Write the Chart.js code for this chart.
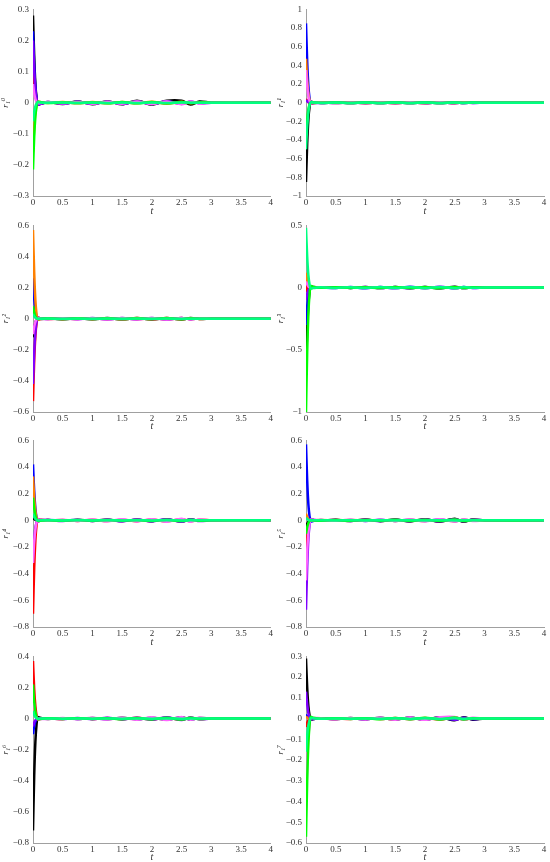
<!DOCTYPE html>
<html>
<head>
<meta charset="utf-8">
<script src="https://cdn.jsdelivr.net/npm/chart.js@4.4.1/dist/chart.umd.min.js"></script>
<style>
  body { margin: 0; background: #fff; }
  #wrap { position: relative; width: 550px; height: 862px; }
  .panel { position: absolute; }
</style>
</head>
<body>
<div id="wrap"></div>
<script>
// time samples shared by every series
const tVals = [0, 0.02, 0.04, 0.06, 0.08, 0.12, 0.25, 0.5, 0.75, 1, 1.25, 1.5, 1.75, 2, 2.25, 2.5, 2.65, 2.8, 3, 4];

// series colours, first one is drawn on top
const seriesColors = ['#00ff80', '#00ff00', '#ff66ff', '#8000ff', '#ff8000', '#ff0000', '#0000ff', '#000000'];

// panel r^0 : springgreen, green, magenta, purple, orange, red, blue, black
const r0 = [
  [-0.06, -0.03, -0.012, -0.003, 0.002, 0.001, 0, 0.001, -0.001, 0.001, -0.001, 0.001, -0.001, 0.001, -0.001, 0.001, 0, 0, 0, 0],
  [-0.215, -0.11, -0.045, -0.012, 0.003, 0.002, -0.001, 0.001, -0.001, 0.001, -0.002, 0.002, -0.002, 0.002, -0.002, 0.002, -0.001, 0.001, 0, 0],
  [0.06, 0.03, 0.012, 0.003, -0.002, -0.001, 0.002, -0.002, 0.002, -0.003, 0.003, -0.003, 0.004, -0.004, 0.004, -0.005, 0.004, -0.003, 0, 0],
  [0.2, 0.1, 0.04, 0.01, -0.006, -0.004, 0.002, -0.003, 0.003, -0.003, 0.003, -0.004, 0.004, -0.004, 0.005, -0.004, 0.004, -0.002, 0, 0],
  [-0.16, -0.08, -0.03, -0.008, 0.004, 0.002, -0.001, 0.002, -0.002, 0.002, -0.002, 0.002, -0.002, 0.003, -0.003, 0.003, -0.002, 0.001, 0, 0],
  [0.125, 0.065, 0.026, 0.007, -0.003, -0.002, 0.001, -0.001, 0.001, -0.002, 0.002, -0.002, 0.002, -0.002, 0.003, -0.003, 0.002, -0.001, 0, 0],
  [0.23, 0.12, 0.05, 0.013, -0.005, -0.003, 0.001, -0.002, 0.002, -0.002, 0.002, -0.002, 0.002, -0.003, 0.003, -0.002, 0.002, -0.001, 0, 0],
  [0.28, 0.15, 0.06, 0.016, -0.006, -0.004, 0.002, -0.004, 0.004, -0.005, 0.005, -0.005, 0.006, -0.006, 0.006, 0.006, -0.006, 0.004, 0, 0]
];

// panel r^1
const r1 = [
  [-0.5, -0.26, -0.1, -0.025, 0.006, 0.003, -0.002, 0.002, -0.002, 0.003, -0.003, 0.003, -0.003, 0.003, -0.003, 0.003, -0.002, 0.001, 0, 0],
  [-0.35, -0.18, -0.07, -0.018, 0.004, 0.002, -0.001, 0.002, -0.002, 0.002, -0.002, 0.002, -0.002, 0.002, -0.002, 0.002, -0.001, 0.001, 0, 0],
  [0.35, 0.18, 0.07, 0.018, -0.004, -0.002, 0.002, -0.003, 0.003, -0.003, 0.003, -0.004, 0.004, -0.004, 0.004, -0.004, 0.003, -0.002, 0, 0],
  [0.03, 0.015, 0.006, 0.002, 0.004, 0.002, -0.002, 0.002, -0.003, 0.003, -0.003, 0.003, -0.003, 0.004, -0.004, 0.004, -0.003, 0.002, 0, 0],
  [0.47, 0.24, 0.1, 0.025, -0.006, -0.003, 0.001, -0.002, 0.002, -0.002, 0.002, -0.002, 0.002, -0.002, 0.002, -0.002, 0.001, -0.001, 0, 0],
  [0.04, 0.02, 0.008, -0.01, -0.005, -0.002, 0.001, -0.001, 0.001, -0.002, 0.002, -0.002, 0.002, -0.002, 0.002, -0.002, 0.001, -0.001, 0, 0],
  [0.85, 0.44, 0.18, 0.045, -0.01, -0.005, 0.003, -0.004, 0.004, -0.005, 0.005, -0.005, 0.005, -0.005, 0.006, -0.005, 0.004, -0.002, 0, 0],
  [-0.85, -0.44, -0.18, -0.045, 0.01, 0.005, -0.002, 0.002, -0.002, 0.003, -0.003, 0.003, -0.003, 0.003, -0.003, 0.003, -0.002, 0.001, 0, 0]
];

// panel r^2
const r2 = [
  [0.03, 0.015, 0.006, 0.002, -0.001, 0, 0.001, -0.001, 0.001, -0.001, 0.001, -0.001, 0.001, -0.001, 0.001, -0.001, 0, 0, 0, 0],
  [0.08, 0.04, 0.016, 0.004, -0.002, -0.001, 0.001, -0.002, 0.002, -0.002, 0.002, -0.002, 0.002, -0.002, 0.003, -0.003, 0.002, -0.001, 0, 0],
  [-0.1, -0.05, -0.02, -0.005, 0.002, 0.001, -0.002, 0.003, -0.003, 0.003, -0.004, 0.004, -0.004, 0.004, -0.005, 0.005, -0.004, 0.002, 0, 0],
  [-0.42, -0.22, -0.09, -0.022, 0.006, 0.003, -0.002, 0.003, -0.003, 0.004, -0.004, 0.004, -0.004, 0.005, -0.005, 0.005, -0.004, 0.002, 0, 0],
  [0.57, 0.3, 0.12, 0.03, -0.008, -0.004, 0.002, -0.003, 0.003, -0.003, 0.003, -0.004, 0.004, -0.004, 0.004, -0.004, 0.003, -0.002, 0, 0],
  [-0.53, -0.27, -0.11, -0.028, 0.007, 0.003, -0.002, 0.002, -0.002, 0.003, -0.003, 0.003, -0.003, 0.003, -0.004, 0.004, -0.003, 0.001, 0, 0],
  [0.26, 0.13, 0.055, 0.014, -0.004, -0.002, 0.001, -0.002, 0.002, -0.002, 0.002, -0.003, 0.003, -0.003, 0.003, -0.003, 0.002, -0.001, 0, 0],
  [-0.12, -0.06, -0.025, -0.006, 0.003, 0.002, 0.002, -0.003, 0.003, -0.003, 0.004, -0.004, 0.004, -0.005, 0.005, -0.005, 0.004, -0.002, 0, 0]
];

// panel r^3
const r3 = [
  [0.48, 0.25, 0.1, 0.025, -0.008, -0.004, 0.002, -0.003, 0.003, -0.004, 0.004, -0.004, 0.005, -0.005, 0.005, -0.005, 0.004, -0.002, 0, 0],
  [-1.0, -0.52, -0.21, -0.05, 0.012, 0.006, -0.002, 0.003, -0.003, 0.003, -0.004, 0.004, -0.004, 0.004, -0.005, 0.005, -0.004, 0.002, 0, 0],
  [0.05, 0.025, 0.01, 0.003, -0.002, -0.001, 0.002, -0.003, 0.003, -0.004, 0.004, -0.005, 0.005, -0.005, 0.006, -0.006, 0.005, -0.003, 0, 0],
  [-0.1, -0.05, -0.02, -0.005, 0.003, 0.002, -0.002, 0.003, -0.003, 0.004, -0.004, 0.004, -0.005, 0.005, -0.005, 0.005, -0.004, 0.002, 0, 0],
  [0.12, 0.06, 0.025, 0.006, -0.003, -0.002, 0.001, -0.002, 0.002, -0.002, 0.002, -0.002, 0.003, -0.003, 0.003, -0.003, 0.002, -0.001, 0, 0],
  [0.05, -0.03, -0.02, -0.005, 0.002, 0.001, -0.001, 0.002, -0.002, 0.002, -0.002, 0.002, -0.002, 0.003, -0.003, 0.003, -0.002, 0.001, 0, 0],
  [-0.3, -0.15, -0.06, -0.015, 0.005, 0.003, 0.002, -0.004, 0.004, -0.005, 0.005, -0.006, 0.006, -0.006, 0.007, -0.007, 0.005, -0.003, 0, 0],
  [-0.65, -0.34, -0.14, -0.035, 0.01, 0.005, -0.002, 0.003, -0.003, 0.004, -0.004, 0.005, -0.005, 0.005, -0.006, 0.006, -0.004, 0.002, 0, 0]
];

// panel r^4
const r4 = [
  [0.05, 0.025, 0.01, 0.003, -0.001, 0, 0.001, -0.001, 0.001, -0.001, 0.001, -0.001, 0.001, -0.001, 0.001, -0.001, 0, 0, 0, 0],
  [0.17, 0.09, 0.035, 0.009, -0.003, -0.002, 0.001, -0.002, 0.002, -0.002, 0.003, -0.003, 0.003, -0.004, 0.004, -0.005, 0.004, -0.002, 0, 0],
  [-0.32, -0.16, -0.065, -0.016, 0.006, 0.003, -0.003, 0.005, -0.005, 0.006, -0.007, 0.008, -0.008, 0.009, -0.01, 0.012, -0.01, 0.006, 0, 0],
  [-0.27, -0.14, -0.055, -0.014, 0.005, 0.003, 0.003, -0.004, 0.005, -0.005, 0.006, -0.007, 0.007, -0.008, 0.009, -0.01, 0.008, -0.005, 0, 0],
  [0.33, 0.17, 0.07, 0.017, -0.005, -0.003, 0.002, -0.003, 0.003, -0.003, 0.004, -0.004, 0.004, -0.005, 0.005, -0.006, 0.005, -0.003, 0, 0],
  [-0.7, -0.36, -0.15, -0.036, 0.01, 0.005, -0.002, 0.003, -0.004, 0.004, -0.005, 0.005, -0.006, 0.006, -0.007, 0.008, -0.006, 0.004, 0, 0],
  [0.42, 0.22, 0.09, 0.022, -0.006, -0.003, 0.002, -0.002, 0.003, -0.003, 0.003, -0.004, 0.004, -0.004, 0.005, -0.005, 0.004, -0.002, 0, 0],
  [0.02, 0.01, 0.004, 0.001, -0.002, -0.001, 0.002, -0.003, 0.003, -0.004, 0.004, -0.005, 0.005, -0.006, 0.006, -0.007, 0.006, -0.003, 0, 0]
];

// panel r^5
const r5 = [
  [0.02, 0.01, 0.004, 0.001, 0, 0, 0.001, -0.001, 0.001, -0.001, 0.001, -0.001, 0.001, -0.001, 0.001, -0.001, 0, 0, 0, 0],
  [-0.1, -0.05, -0.02, -0.005, 0.002, 0.001, -0.002, 0.002, -0.003, 0.003, -0.003, 0.004, -0.004, 0.005, -0.005, 0.006, -0.005, 0.003, 0, 0],
  [-0.45, -0.23, -0.09, -0.023, 0.006, 0.003, 0.002, -0.003, 0.004, -0.004, 0.005, -0.005, 0.006, -0.007, 0.008, -0.009, 0.007, -0.004, 0, 0],
  [-0.67, -0.35, -0.14, -0.035, 0.009, 0.005, -0.002, 0.003, -0.004, 0.004, -0.005, 0.005, -0.006, 0.006, -0.007, 0.008, -0.006, 0.004, 0, 0],
  [0.05, 0.025, 0.01, 0.003, -0.002, -0.001, 0.002, -0.002, 0.003, -0.003, 0.003, -0.004, 0.004, -0.005, 0.005, -0.006, 0.005, -0.003, 0, 0],
  [-0.25, -0.13, -0.05, -0.013, 0.004, 0.002, -0.001, 0.002, -0.002, 0.003, -0.003, 0.003, -0.004, 0.004, -0.005, 0.005, -0.004, 0.002, 0, 0],
  [0.57, 0.3, 0.12, 0.03, -0.008, -0.004, 0.002, -0.003, 0.003, -0.004, 0.004, -0.004, 0.005, -0.005, 0.006, -0.006, 0.005, -0.003, 0, 0],
  [-0.05, -0.025, -0.01, -0.003, 0.003, 0.002, -0.003, 0.004, -0.005, 0.006, -0.006, 0.007, -0.008, 0.009, -0.01, 0.012, -0.011, 0.007, 0, 0]
];

// panel r^6
const r6 = [
  [0.05, 0.025, 0.01, 0.003, -0.001, 0, 0.001, -0.001, 0.001, -0.001, 0.001, -0.001, 0.001, -0.001, 0.001, -0.001, 0, 0, 0, 0],
  [0.22, 0.11, 0.045, 0.011, -0.004, -0.002, 0.002, -0.002, 0.003, -0.003, 0.003, -0.004, 0.004, -0.005, 0.005, -0.006, 0.005, -0.003, 0, 0],
  [0.15, 0.08, 0.03, 0.008, -0.003, -0.002, -0.003, 0.004, -0.004, 0.005, -0.006, 0.006, -0.007, 0.008, -0.009, 0.01, -0.008, 0.005, 0, 0],
  [-0.05, -0.025, -0.01, -0.003, 0.002, 0.001, 0.002, -0.003, 0.004, -0.004, 0.005, -0.005, 0.006, -0.007, 0.008, -0.009, 0.007, -0.004, 0, 0],
  [0.1, 0.05, 0.02, 0.005, -0.002, -0.001, 0.001, -0.002, 0.002, -0.002, 0.003, -0.003, 0.003, -0.004, 0.004, -0.005, 0.004, -0.002, 0, 0],
  [0.37, 0.19, 0.08, 0.02, -0.006, -0.003, 0.002, -0.003, 0.003, -0.003, 0.004, -0.004, 0.005, -0.005, 0.006, -0.007, 0.006, -0.003, 0, 0],
  [-0.1, -0.05, -0.02, -0.005, 0.002, 0.001, -0.001, 0.002, -0.002, 0.002, -0.003, 0.003, -0.003, 0.004, -0.004, 0.005, -0.004, 0.002, 0, 0],
  [-0.72, -0.37, -0.15, -0.037, 0.01, 0.005, -0.002, 0.003, -0.003, 0.004, -0.004, 0.005, -0.005, 0.006, -0.007, 0.008, -0.006, 0.004, 0, 0]
];

// panel r^7
const r7 = [
  [-0.16, -0.08, -0.033, -0.008, 0.003, 0.002, -0.001, 0.001, -0.001, 0.001, -0.001, 0.002, -0.002, 0.002, -0.002, 0.002, -0.001, 0.001, 0, 0],
  [-0.57, -0.3, -0.12, -0.03, 0.008, 0.004, -0.001, 0.002, -0.002, 0.002, -0.003, 0.003, -0.003, 0.004, -0.004, 0.005, -0.004, 0.002, 0, 0],
  [-0.44, -0.23, -0.09, -0.023, 0.006, 0.003, 0.002, -0.003, 0.003, -0.004, 0.004, -0.005, 0.005, -0.006, 0.007, 0.008, -0.006, 0.004, 0, 0],
  [0.13, 0.07, 0.027, 0.007, -0.003, -0.002, 0.001, -0.002, 0.002, -0.003, 0.003, -0.003, 0.004, -0.004, 0.005, -0.005, 0.004, -0.002, 0, 0],
  [0.01, 0.005, 0.002, 0, -0.001, -0.001, 0.001, -0.002, 0.002, -0.002, 0.002, -0.003, 0.003, -0.003, 0.004, 0.005, -0.004, 0.002, 0, 0],
  [-0.04, -0.02, -0.008, -0.002, 0.002, 0.001, -0.001, 0.001, -0.002, 0.002, -0.002, 0.003, -0.003, 0.003, -0.004, 0.005, -0.003, 0.002, 0, 0],
  [0.02, 0.01, 0.004, 0.001, -0.001, -0.001, 0.001, -0.001, 0.002, -0.002, 0.002, -0.002, 0.003, -0.003, 0.003, -0.004, 0.003, -0.002, 0, 0],
  [0.29, 0.15, 0.06, 0.015, -0.005, -0.003, 0.002, -0.003, 0.003, -0.004, 0.004, -0.005, 0.005, -0.006, 0.007, -0.008, 0.007, -0.005, 0, 0]
];

// y-axis ranges and tick steps, in panel order (left column then right column per row)
const panelSeries = [r0, r1, r2, r3, r4, r5, r6, r7];
const panelTitles = ['r\u2081\u2070', 'r\u2081\u00b9', 'r\u2081\u00b2', 'r\u2081\u00b3', 'r\u2081\u2074', 'r\u2081\u2075', 'r\u2081\u2076', 'r\u2081\u2077'];
const yMins = [-0.3, -1, -0.6, -1, -0.8, -0.8, -0.8, -0.6];
const yMaxs = [0.3, 1, 0.6, 0.5, 0.6, 0.6, 0.4, 0.3];
const ySteps = [0.1, 0.2, 0.2, 0.5, 0.2, 0.2, 0.2, 0.1];

const rowTops = [0, 216, 431, 647];
const rowHeights = [216, 215, 216, 215];
const wrap = document.getElementById('wrap');
const serif = "'Liberation Serif', 'DejaVu Serif', serif";

panelSeries.forEach((series, p) => {
  const col = p % 2;
  const row = Math.floor(p / 2);
  const div = document.createElement('div');
  div.className = 'panel';
  div.style.left = (col * 275) + 'px';
  div.style.top = rowTops[row] + 'px';
  const canvas = document.createElement('canvas');
  canvas.width = 275;
  canvas.height = rowHeights[row];
  div.appendChild(canvas);
  wrap.appendChild(div);

  const datasets = series.map((vals, i) => ({
    data: tVals.map((t, k) => ({ x: t, y: vals[k] })),
    borderColor: seriesColors[i],
    borderWidth: 2.5,
    pointRadius: 0,
    tension: 0.3,
    fill: false,
    order: i
  }));

  new Chart(canvas.getContext('2d'), {
    type: 'line',
    data: { datasets: datasets },
    options: {
      responsive: false,
      animation: false,
      layout: { padding: { top: 6, right: col === 0 ? 3 : 6, left: 0, bottom: 0 } },
      plugins: { legend: { display: false }, tooltip: { enabled: false } },
      scales: {
        x: {
          type: 'linear',
          min: 0, max: 4,
          grid: { drawOnChartArea: false, drawTicks: false },
          border: { color: '#a0a0a0', width: 1 },
          ticks: {
            stepSize: 0.5, padding: 2, color: '#333', font: { family: serif, size: 9, lineHeight: 1 },
            callback: v => String(v)
          },
          title: { display: true, text: 't', padding: 0, color: '#333', font: { family: serif, size: 10, style: 'italic', lineHeight: 1 } },
          afterFit: s => { s.height = rowHeights[row] - 196; }
        },
        y: {
          min: yMins[p], max: yMaxs[p],
          grid: { drawOnChartArea: false, drawTicks: false },
          border: { color: '#a0a0a0', width: 1 },
          ticks: {
            stepSize: ySteps[p], padding: 4, color: '#333', font: { family: serif, size: 9 },
            callback: v => String(Math.round(v * 10) / 10).replace('-', '\u2212')
          },
          title: { display: true, text: panelTitles[p], padding: { top: 0, bottom: 2 }, color: '#333', font: { family: serif, size: 9, style: 'italic' } },
          afterFit: s => { s.width = col === 0 ? 33 : 31; }
        }
      }
    }
  });
});
</script>
</body>
</html>
